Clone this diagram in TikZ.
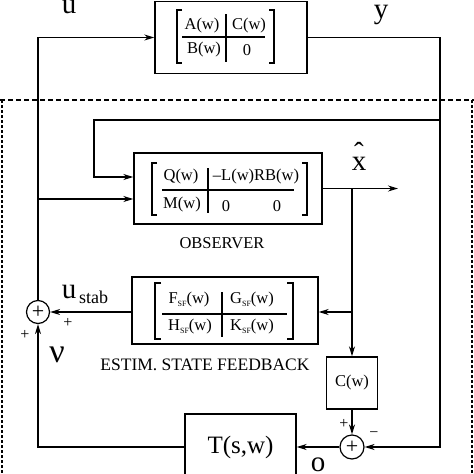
\documentclass[tikz,border=0pt]{standalone}
\usepackage{fontspec}
\setmainfont{Liberation Serif}
\usetikzlibrary{arrows.meta}
\newcommand{\fsz}[1]{\fontsize{#1}{#1}\selectfont}
\newcommand{\sfsub}{\raisebox{-3pt}{\fsz{8}SF}}
\begin{document}
\begin{tikzpicture}[x=1pt,y=-1pt,
  blk/.style={draw, line width=1.4pt, inner sep=0pt},
  sumc/.style={draw, circle, line width=1.2pt, minimum size=23pt, inner sep=0pt, font=\fsz{22}},
  wire/.style={line width=1.3pt},
  arr/.style={wire, -{Stealth[length=10pt,width=6pt]}},
  mtx/.style={font=\fsz{16.5}, inner sep=0pt},
  brk/.style={line width=1.2pt},
  var/.style={font=\fsz{29}, inner sep=0pt, anchor=base},
  pm/.style={font=\fsz{16}, inner sep=0pt},
  dshh/.style={line width=1.4pt, dash pattern=on 5pt off 3pt},
  dshv/.style={line width=1.8pt, dash pattern=on 3pt off 2pt}
]
\useasboundingbox (0,0) rectangle (474,474);
\clip (0,0) rectangle (474,474);

% dashed frame
\draw[dshh] (0,100) -- (474,100);
\draw[dshv] (2,100) -- (2,474);
\draw[dshv] (472,100) -- (472,474);

% plant
\node[blk, minimum width=152pt, minimum height=72pt] (P) at (231,37.5) {};
\draw[brk] (182,10) -- (177,10) -- (177,63) -- (182,63);
\draw[brk] (269,10) -- (274,10) -- (274,63) -- (269,63);
\draw[brk] (226,14) -- (226,62);
\draw[brk] (182,37) -- (265,37);
\node[mtx] (pa) at (202,26) {A(w)};
\node[mtx] (pc) at (249,26) {C(w)};
\node[mtx] (pb) at (204,50) {B(w)};
\node[mtx] (pz) at (247,50) {0};

% observer
\node[blk, minimum width=188pt, minimum height=71pt] (O) at (228,188.5) {};
\draw[brk] (157,163) -- (152,163) -- (152,215) -- (157,215);
\draw[brk] (302,163) -- (307,163) -- (307,215) -- (302,215);
\draw[brk] (208,168) -- (208,213);
\draw[brk] (162,190) -- (294,190);
\node[mtx] (oq) at (181,177) {Q(w)};
\node[mtx] (ol) at (256,177) {–L(w)RB(w)};
\node[mtx] (om) at (182,205) {M(w)};
\node[mtx] (oz1) at (226,206) {0};
\node[mtx] (oz2) at (277,206) {0};
\node[font=\fsz{16.5}, inner sep=0pt] (obs) at (222,243) {OBSERVER};

% state feedback
\node[blk, minimum width=186pt, minimum height=67pt] (F) at (225,310.5) {};
\draw[brk] (161,283) -- (155,283) -- (155,339) -- (161,339);
\draw[brk] (287,283) -- (293,283) -- (293,339) -- (287,339);
\draw[brk] (222,292) -- (222,337);
\draw[brk] (162,314) -- (287,314);
\node[mtx] (ff) at (189,300) {F\sfsub(w)};
\node[mtx] (fg) at (252,300) {G\sfsub(w)};
\node[mtx] (fh) at (190,327) {H\sfsub(w)};
\node[mtx] (fk) at (252,327) {K\sfsub(w)};
\node[font=\fsz{17.5}, inner sep=0pt] (esf) at (205,365) {ESTIM. STATE FEEDBACK};

% C(w), T(s,w)
\node[blk, minimum width=51pt, minimum height=52pt, font=\fsz{16.5}] (C) at (352,383) {C(w)};
\node[blk, minimum width=111pt, minimum height=66pt, font=\fsz{25}] (T) at (240.5,447) {T(s,w)};

% summing junctions
\node[sumc] (S1) at (38,312) {+};
\node[sumc, minimum size=24pt] (S2) at (352,447) {+};

% coordinates
\coordinate (ob2) at (38,199);
\coordinate (yr) at (440,447);
\coordinate (fb) at (440,120);
\coordinate (fbl) at (94,120);
\coordinate (fbd) at (94,177);
\coordinate (xo) at (398,188.5);
\coordinate (xb) at (352,188.5);
\coordinate (fsb) at (352,312);

% connectors
\draw[arr] (S1.north) |- (P.west);
\draw[arr] (ob2) -- (ob2 -| O.west);
\draw[arr] (P.east) -| (yr) -- (S2.east);
\draw[arr] (fb) -- (fbl) -- (fbd) -- (fbd -| O.west);
\draw[arr] (O.east) -- (xo);
\draw[arr] (xb) -- (C.north);
\draw[arr] (fsb) -- (fsb -| F.east);
\draw[arr] (S1 -| F.west) -- (S1.east);
\draw[arr] (C.south) -- (S2.north);
\draw[arr] (S2.west) -- (T.east);
\draw[arr] (T.west) -| (S1.south);

% labels
\node[var] (lu) at (69,13) {u};
\node[var] (ly) at (381,18) {y};
\node[var] (lx) at (359,170) {x};
\node[var] (lhat) at (359,162) {ˆ};
\node[var] (lus) at (69,298) {u};
\node[font=\fsz{18}, inner sep=0pt, anchor=base west] (lst) at (79,303) {stab};
\node[font=\fsz{34}, inner sep=0pt, anchor=base] (lnu) at (57,362) {ν};
\node[var] (lo) at (318,471) {o};
\node[pm] (p1) at (68,323) {+};
\node[pm] (p2) at (25,335) {+};
\node[pm] (p3) at (344,424) {+};
\node[pm] (m1) at (374,435) {−};
\end{tikzpicture}
\end{document}
